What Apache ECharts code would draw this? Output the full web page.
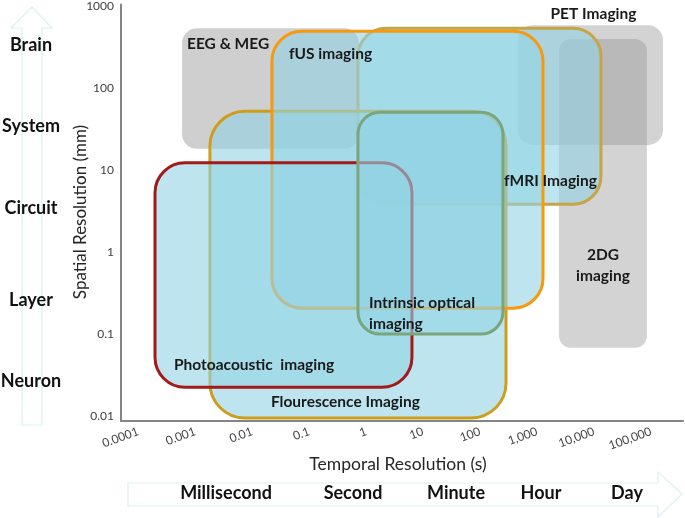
<!DOCTYPE html>
<html>
<head>
<meta charset="utf-8">
<script src="https://cdn.jsdelivr.net/npm/echarts@6/dist/echarts.min.js"></script>
<style>
html,body{margin:0;padding:0;background:#fff;}
#chart{width:685px;height:518px;}
</style>
</head>
<body>
<div id="chart"></div>
<script>
// ---- data ----
const methods = ['EEG & MEG', 'PET Imaging', '2DG imaging', 'fMRI Imaging', 'Flourescence Imaging', 'fUS imaging', 'Photoacoustic  imaging', 'Intrinsic optical imaging'];
// temporal resolution range (s)
const tMin = [0.00059, 462, 2420, 0.72, 0.00182, 0.0223, 0.000198, 0.72];
const tMax = [0.75, 161800, 84700, 13200, 285, 1270, 6.38, 252];
// spatial resolution range (mm)
const sMin = [18.2, 20.3, 0.0688, 3.84, 0.0096, 0.209, 0.0227, 0.101];
const sMax = [536, 582, 395, 536, 52.1, 493, 12.3, 50.7];

const xTicks = [0.0001, 0.001, 0.01, 0.1, 1, 10, 100, 1000, 10000, 100000];
const xTickLabels = ['0.0001', '0.001', '0.01', '0.1', '1', '10', '100', '1,000', '10,000', '100,000'];
const yTicks = [0.01, 0.1, 1, 10, 100, 1000];
const yTickLabels = ['0.01', '0.1', '1', '10', '100', '1000'];

const scaleLabels = ['Brain', 'System', 'Circuit', 'Layer', 'Neuron'];
const timeLabels = ['Millisecond', 'Second', 'Minute', 'Hour', 'Day'];

// ---- styles ----
const BLUE = 'rgba(147,212,228,0.6)';
const boxStyle = [
  {fill: 'rgba(150,150,150,0.46)', r: 15},
  {fill: 'rgba(150,150,150,0.42)', r: 15},
  {fill: 'rgba(150,150,150,0.42)', r: 12},
  {fill: BLUE, stroke: '#c6a448', r: 28},
  {fill: BLUE, stroke: '#cf9d1c', r: 35},
  {fill: BLUE, stroke: '#f7990f', r: 30},
  {fill: BLUE, stroke: '#a31a1a', r: 30},
  {fill: BLUE, stroke: '#7ba57a', r: 22}
];
// label placement relative to the box (pixels)
const labelStyle = [
  {ref: 'tl', dx: 5, dy: 16, align: 'left'},
  {ref: 'tc', dx: 3, dy: -11, align: 'center'},
  {ref: 'tc', dx: 0, dy: 226, align: 'center', text: '2DG\nimaging'},
  {ref: 'br', dx: -4, dy: -23, align: 'right'},
  {ref: 'bl', dx: 61, dy: -16, align: 'left'},
  {ref: 'tl', dx: 17, dy: 23, align: 'left'},
  {ref: 'bl', dx: 19, dy: -22, align: 'left'},
  {ref: 'bl', dx: 11, dy: -20.5, align: 'left', text: 'Intrinsic optical\nimaging'}
];

const FONT = 'Lato';
const lg = Math.log10;
const boxData = methods.map((m, i) => [lg(tMin[i]), lg(tMax[i]), lg(sMin[i]), lg(sMax[i]), i]);

function boxRect(api) {
  const p1 = api.coord([api.value(0), api.value(3)]);
  const p2 = api.coord([api.value(1), api.value(2)]);
  return {x: p1[0], y: p1[1], w: p2[0] - p1[0], h: p2[1] - p1[1]};
}

const chart = echarts.init(document.getElementById('chart'), null, {renderer: 'canvas'});

const leftArrow = [[32,7],[52,28],[42,28],[42,425],[22,425],[22,28],[11,28]];
const bottomArrow = [[128,483],[658,483],[658,472],[682,494],[658,517],[658,506],[128,506]];
const scaleY = [45, 126, 208, 300, 381];
const timeX = [226, 353, 456, 541, 627];

const graphics = [
  {type: 'polygon', shape: {points: leftArrow}, style: {fill: 'none', stroke: '#dcf1f1', lineWidth: 1.2}, z: 0},
  {type: 'polygon', shape: {points: bottomArrow}, style: {fill: 'none', stroke: '#dcf1f1', lineWidth: 1.2}, z: 0},
  {type: 'text', x: 81, y: 212, rotation: Math.PI / 2,
   style: {text: 'Spatial Resolution (mm)', fontFamily: FONT, fontSize: 17, fill: '#262626', align: 'center', verticalAlign: 'middle'}},
  {type: 'text', x: 398, y: 464,
   style: {text: 'Temporal Resolution (s)', fontFamily: FONT, fontSize: 17.5, fill: '#262626', align: 'center', verticalAlign: 'middle'}}
];
scaleLabels.forEach((t, i) => graphics.push({type: 'text', x: 31, y: scaleY[i], z: 5,
  style: {text: t, fontFamily: FONT, fontWeight: 'bold', fontSize: 18, fill: '#111', align: 'center', verticalAlign: 'middle'}}));
timeLabels.forEach((t, i) => graphics.push({type: 'text', x: timeX[i], y: 493, z: 5,
  style: {text: t, fontFamily: FONT, fontWeight: 'bold', fontSize: 18, fill: '#111', align: 'center', verticalAlign: 'middle'}}));

function fmt(ticks, labels) {
  return v => {
    for (let i = 0; i < ticks.length; i++) if (Math.abs(lg(ticks[i]) - v) < 1e-6) return labels[i];
    return '';
  };
}

chart.setOption({
  animation: false,
  grid: {left: 121, right: 2, top: 0, bottom: 97, containLabel: false},
  xAxis: {
    type: 'value', min: -4.30, max: 5.56,
    axisLine: {onZero: false, lineStyle: {color: '#858585', width: 2}},
    axisTick: {show: false},
    splitLine: {show: false},
    axisLabel: {customValues: xTicks.map(lg), formatter: fmt(xTicks, xTickLabels), rotate: 20, margin: 10,
      fontFamily: FONT, fontSize: 12, color: '#404040'}
  },
  yAxis: {
    type: 'value', min: -2.054, max: 3.018,
    axisLine: {show: true, onZero: false, lineStyle: {color: '#858585', width: 2}},
    axisTick: {show: false},
    splitLine: {show: false},
    axisLabel: {customValues: yTicks.map(lg), formatter: fmt(yTicks, yTickLabels), margin: 7,
      fontFamily: FONT, fontSize: 12, color: '#404040'}
  },
  graphic: graphics,
  series: [
    {
      type: 'custom', z: 2, clip: false,
      data: boxData,
      encode: {x: [0, 1], y: [2, 3]},
      renderItem: (params, api) => {
        const b = boxRect(api);
        const st = boxStyle[api.value(4)];
        return {type: 'rect', shape: {x: b.x, y: b.y, width: b.w, height: b.h, r: st.r},
          style: {fill: st.fill, stroke: st.stroke || null, lineWidth: st.stroke ? 3 : 0}};
      }
    },
    {
      type: 'custom', z: 3, clip: false,
      data: boxData,
      encode: {x: [0, 1], y: [2, 3]},
      renderItem: (params, api) => {
        const i = api.value(4);
        const b = boxRect(api);
        const ls = labelStyle[i];
        let x, y;
        if (ls.ref === 'tl') { x = b.x; y = b.y; }
        else if (ls.ref === 'tc') { x = b.x + b.w / 2; y = b.y; }
        else if (ls.ref === 'bl') { x = b.x; y = b.y + b.h; }
        else { x = b.x + b.w; y = b.y + b.h; }
        return {type: 'text', x: x + ls.dx, y: y + ls.dy,
          style: {text: ls.text || methods[i], fontFamily: FONT, fontWeight: 'bold', fontSize: 15.5, lineHeight: 21,
            fill: '#1a1a1a', align: ls.align, verticalAlign: 'middle'}};
      }
    }
  ]
});
</script>
</body>
</html>
